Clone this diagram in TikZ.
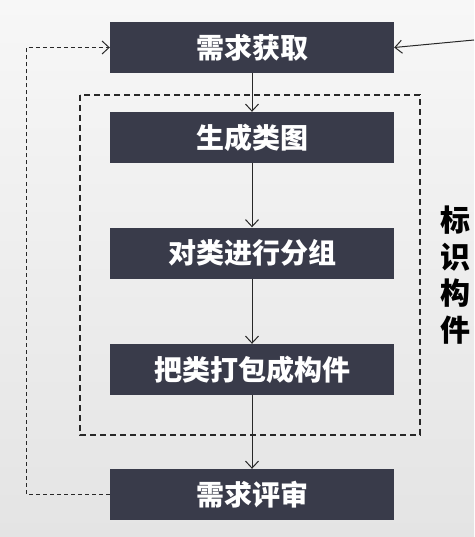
\documentclass[tikz,border=0pt]{standalone}
\usepackage{fontspec}
\newfontfamily\cjk{Noto Sans CJK SC}
\usetikzlibrary{arrows.meta}
\definecolor{boxgray}{RGB}{57,59,74}
\definecolor{bgtop}{RGB}{247,247,247}
\definecolor{bgbottom}{RGB}{228,228,228}
\definecolor{linegray}{RGB}{40,40,40}

\begin{document}
\begin{tikzpicture}[x=1pt,y=-1pt,
	box/.style={fill=boxgray, text=white, minimum width=284pt, minimum height=51pt,
		inner sep=0pt, font=\cjk\bfseries\fontsize{28}{30}\selectfont},
	flow/.style={-{Straight Barb[length=7pt,width=13pt]}, draw=linegray, line width=1pt}]

	% background
	\shade[top color=bgtop, bottom color=bgbottom] (0,0) rectangle (474,537);
	\useasboundingbox (0,0) rectangle (474,537);

	% dashed group
	\draw[dashed, dash pattern=on 6pt off 4pt, line width=1.2pt, draw=linegray] (80,95) rectangle (420,435);
	\node[font=\cjk\bfseries\fontsize{30}{36.5}\selectfont, align=center] (label) at (455,275) {标\\识\\构\\件};

	\node[box] (req) at (252,47.5) {需求获取};
	\node[box] (diagram) at (252,137.5) {生成类图};
	\node[box] (group) at (252,253) {对类进行分组};
	\node[box] (pack) at (252,369.5) {把类打包成构件};
	\node[box] (review) at (252,494.5) {需求评审};

	\draw[flow] (req) -- (diagram);
	\draw[flow] (diagram) -- (group);
	\draw[flow] (group) -- (pack);
	\draw[flow] (pack) -- (review);

	\coordinate (in) at (474,40);
	\draw[flow] (in) -- (req.east);

	\draw[flow, dashed, dash pattern=on 4pt off 3pt] (review.west) -- ++(-83,0) |- (req.west);

\end{tikzpicture}
\end{document}
